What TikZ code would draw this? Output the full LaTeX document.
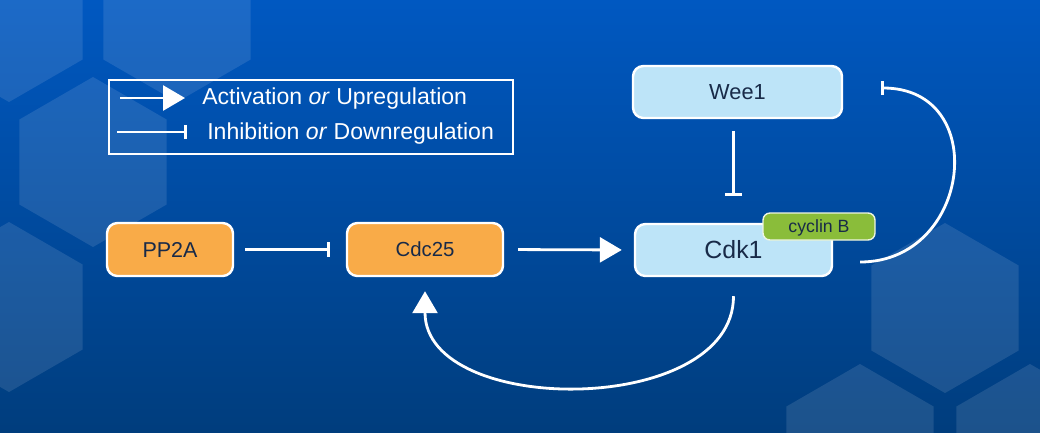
\documentclass[tikz,border=0pt]{standalone}
\usepackage{fontspec}
\setmainfont{Liberation Sans}
\usetikzlibrary{arrows.meta}

\definecolor{bgtop}{RGB}{0,88,193}
\definecolor{bgbottom}{RGB}{0,61,125}
\definecolor{ink}{RGB}{24,42,72}
\definecolor{pporange}{RGB}{249,171,72}
\definecolor{cdkblue}{RGB}{189,228,248}
\definecolor{cycgreen}{RGB}{138,189,58}

\newcommand{\keyfont}{\fontsize{16.4pt}{19pt}\selectfont}

\tikzset{
  protein/.style={draw=white, line width=0.6mm, rounded corners=2.6mm, inner sep=0pt,
    text=ink, minimum height=13.25mm},
  phosphatase/.style={protein, fill=pporange},
  kinase/.style={protein, fill=cdkblue},
  activate/.style={draw=white, line width=0.7mm, -{Triangle[length=5.5mm, width=6.25mm]}},
  inhibit/.style={draw=white, line width=0.7mm, -{Bar[width=#1]}},
  inhibit/.default=3.6mm,
}

\begin{document}
\begin{tikzpicture}[x=0.25mm, y=-0.25mm]
  % backdrop with honeycomb
  \useasboundingbox (0,0) rectangle (1040,432);
  \shade[top color=bgtop, bottom color=bgbottom] (0,0) rectangle (1040,432);
  \begin{scope}
    \clip (0,0) rectangle (1040,432);
    \foreach \cx/\cy in {9/17, 177/17, 93/162, 9/307, 945/308, 860/449, 1030/449}
      \fill[white, opacity=0.11] (\cx,\cy) +(90:85) -- +(30:85) -- +(-30:85)
        -- +(-90:85) -- +(-150:85) -- +(150:85) -- cycle;
  \end{scope}

  % key
  \node[draw=white, line width=0.5mm, minimum width=101mm, minimum height=18.5mm,
    inner sep=0pt] (legend) at (311,117) {};
  \node[anchor=base west, inner sep=0pt, text=white, font=\keyfont] (acttxt) at (202,104)
    {Activation \textit{or} Upregulation};
  \node[anchor=base west, inner sep=0pt, text=white, font=\keyfont] (inhtxt) at (207,139)
    {Inhibition \textit{or} Downregulation};
  \coordinate (actkey) at (120,98);
  \coordinate (acttip) at (185,98);
  \coordinate (inhkey) at (117,132);
  \coordinate (inhtip) at (187,132);
  \draw[activate] (actkey) -- (acttip);
  \draw[inhibit] (inhkey) -- (inhtip);

  % proteins
  \node[phosphatase, minimum width=31.5mm, font=\fontsize{15.3pt}{18pt}\selectfont]
    (pp2a) at (170,249.5) {PP2A};
  \node[phosphatase, minimum width=39mm, font=\fontsize{14.5pt}{17pt}\selectfont]
    (cdc25) at (425,249.5) {Cdc25};
  \node[kinase, minimum width=49.25mm, minimum height=13mm, font=\fontsize{17.7pt}{21pt}\selectfont]
    (cdk1) at (733.5,250) {Cdk1};
  \node[kinase, minimum width=52.25mm, minimum height=13mm, font=\fontsize{15.5pt}{18pt}\selectfont]
    (wee1) at (737.5,92) {Wee1};
  \node[draw=white!85!cycgreen, line width=0.35mm, fill=cycgreen, rounded corners=1.75mm,
    minimum width=28mm, minimum height=6.75mm, inner sep=0pt, text depth=0pt, text=ink,
    font=\fontsize{12.6pt}{15pt}\selectfont] (cycb) at (819,226.5) {cyclin B};

  % feedback loop ends
  \coordinate (cdk1 out) at ([xshift=6.75mm, yshift=-3mm]cdk1.east);
  \coordinate (wee1 in) at ([xshift=9.5mm, yshift=1mm]wee1.east);

  % interactions
  \draw[inhibit, shorten <=2.75mm, shorten >=4mm] (pp2a.east) -- (cdc25.west);
  \draw[activate, shorten <=3.5mm, shorten >=3mm] (cdc25.east) -- (cdk1.west);
  \draw[inhibit=4.25mm, shorten <=3mm, shorten >=6.75mm] (wee1.south -| cdk1.north) -- (cdk1.north);
  \draw[inhibit] (cdk1 out) .. controls +(111,0) and +(110,0) .. (wee1 in);
  \draw[activate, shorten <=4.75mm, shorten >=3.5mm]
    (cdk1.south) .. controls +(0,140) and +(0,140) .. (cdc25.south);
\end{tikzpicture}
\end{document}
